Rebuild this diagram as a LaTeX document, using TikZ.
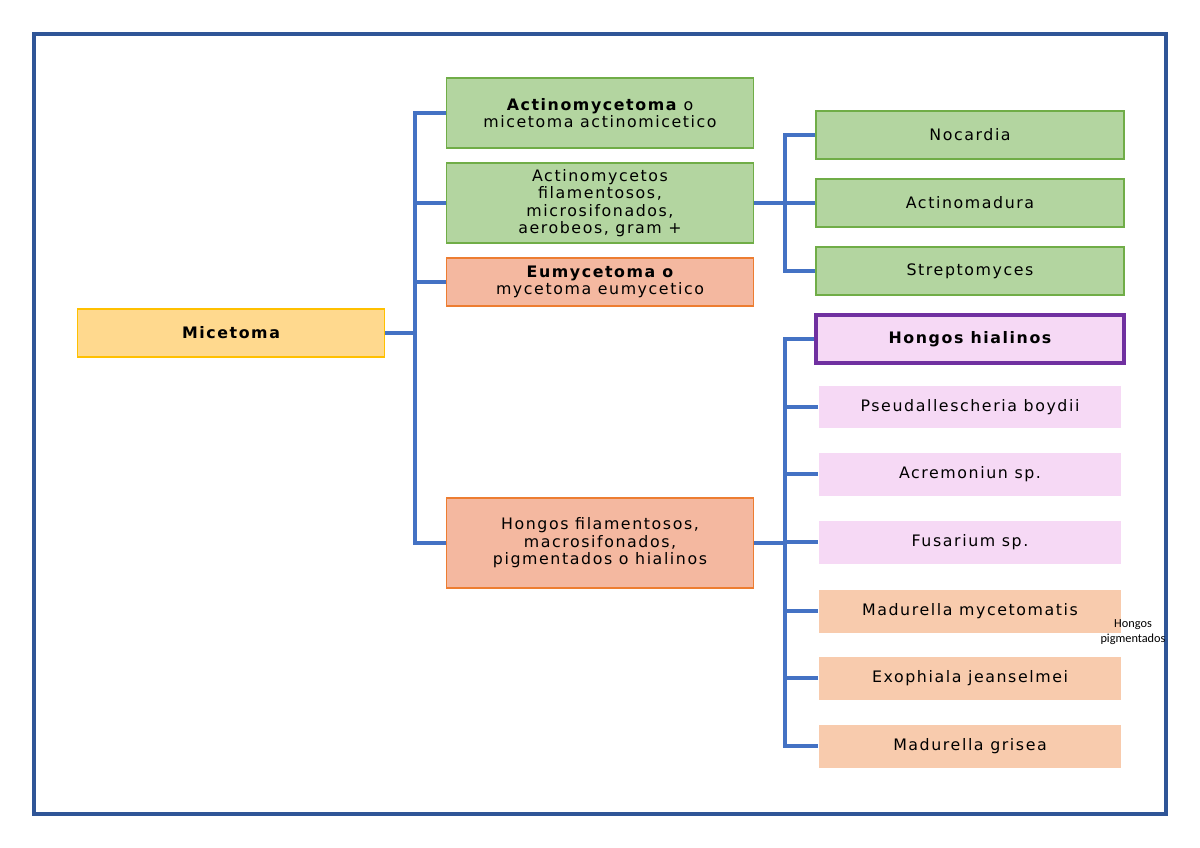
\documentclass[tikz,border=0pt]{standalone}
\usepackage{fontspec}
\setmainfont{DejaVu Sans}[LetterSpace=10]
\newfontfamily\narrowfont{Carlito}
\usetikzlibrary{positioning}
\usetikzlibrary{calc}

\definecolor{frameblue}{HTML}{2F5597}
\definecolor{linkblue}{HTML}{4472C4}
\definecolor{greenfill}{HTML}{B3D5A0}
\definecolor{greenline}{HTML}{70AD47}
\definecolor{orangefill}{HTML}{F4B8A0}
\definecolor{orangeline}{HTML}{ED7D31}
\definecolor{yellowfill}{HTML}{FFD98E}
\definecolor{yellowline}{HTML}{FFC000}
\definecolor{pinkfill}{HTML}{F6D9F5}
\definecolor{purpleline}{HTML}{7030A0}
\definecolor{peachfill}{HTML}{F8CBAD}

\begin{document}
\begin{tikzpicture}[x=0.02cm,y=-0.02cm]

  \tikzset{box/.style={rectangle,minimum width=6.14cm,minimum height=0.96cm,
      align=center,font=\fontsize{9}{10}\selectfont,line width=1pt}}
  \tikzset{green/.style={box,fill=greenfill,draw=greenline}}
  \tikzset{orange/.style={box,fill=orangefill,draw=orangeline}}
  \tikzset{pink/.style={box,fill=pinkfill,minimum width=6.06cm,minimum height=0.86cm}}
  \tikzset{peach/.style={box,fill=peachfill,minimum width=6.06cm,minimum height=0.86cm}}
  \tikzset{link/.style={draw=linkblue,line width=2pt}}

  \useasboundingbox (0,0) rectangle (1200,848);
  \draw [frameblue,line width=2pt] (34,34) rectangle (1166,814);

  % Root and first level

  \node [box,fill=yellowfill,draw=yellowline] (micetoma) at (231,333) {\bfseries Micetoma};
  \node [green,minimum height=1.4cm] (actino) at (600,113)
    {\bfseries Actinomycetoma \mdseries o\\micetoma actinomicetico};
  \node [green,minimum height=1.44cm] (actfil) at (600,203)
    {Actinomycetos\\filamentosos,\\microsifonados,\\aerobeos, gram +};
  \node [orange] (eumy) at (600,282) {\bfseries Eumycetoma o\\mycetoma eumycetico};
  \node [orange,minimum height=1.8cm] (hongfil) at (600,543)
    {Hongos filamentosos,\\macrosifonados,\\pigmentados o hialinos};

  % Actinomycetes

  \node [green,minimum width=6.16cm] (nocardia) at (970,135) {Nocardia};
  \node [green,minimum width=6.16cm] (actinomadura) at (970,203) {Actinomadura};
  \node [green,minimum width=6.16cm] (strepto) at (970,271) {Streptomyces};

  % Fungi

  \node [box,fill=pinkfill,draw=purpleline,line width=2pt,minimum width=6.16cm] (hialinos)
    at (970,339) {\bfseries Hongos hialinos};
  \node [pink] (pseud) at (970,407) {Pseudallescheria boydii};
  \node [pink] (acrem) at (970,474) {Acremoniun sp.};
  \node [pink] (fusar) at (970,542) {Fusarium sp.};
  \node [peach] (madmyc) at (970,611) {Madurella mycetomatis};
  \node [peach] (exoph) at (970,678) {Exophiala jeanselmei};
  \node [peach] (madgri) at (970,746) {Madurella grisea};
  \node [font=\narrowfont\fontsize{7}{8.5}\selectfont,align=center] (pigm) at (1133,632)
    {Hongos\\pigmentados};

  % Connectors

  \coordinate (trunk) at (415,333);
  \draw [link] (micetoma.east) -- (trunk);
  \foreach \n in {actino,actfil,eumy,hongfil}
    \draw [link] (trunk) |- (\n.west);

  \coordinate (actfork) at (785,203);
  \draw [link] (actfil.east) -- (actfork);
  \foreach \n in {nocardia,actinomadura,strepto}
    \draw [link] (actfork) |- (\n.west);

  \coordinate (hongfork) at (785,543);
  \draw [link] (hongfil.east) -- (hongfork);
  \foreach \n in {hialinos,pseud,acrem,fusar,madmyc,exoph,madgri}
    \draw [link] (hongfork) |- (\n.west);

\end{tikzpicture}
\end{document}
